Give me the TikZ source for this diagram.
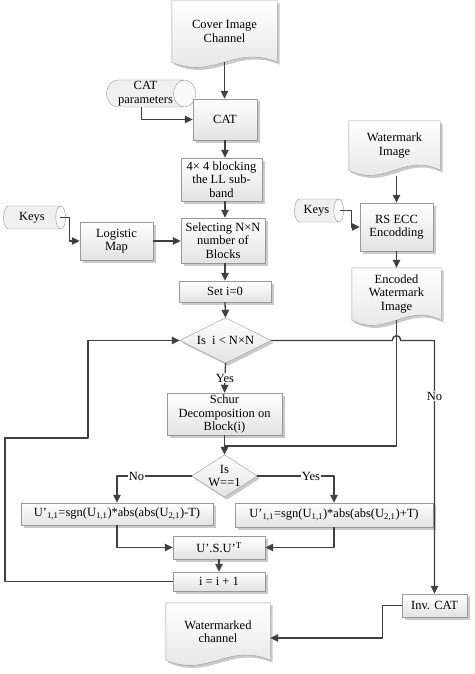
\documentclass[tikz,border=0pt]{standalone}
\usepackage{fontspec}
\setmainfont{Liberation Serif}
\usetikzlibrary{shapes.geometric,arrows.meta,shadows,backgrounds,calc}

\newcommand\fsz{\fontsize{12.5}{13.5}\selectfont}
% outline of a document shape round a plain node
\newcommand\docshape[1]{%
  \begin{scope}[on background layer]
    \path[box] (#1.north west) -- (#1.north east) -- (#1.south east)
      .. controls ($(#1.south)!0.2!(#1.south east)+(0pt,18pt)$)
      and ($(#1.south)!0.2!(#1.south west)+(0pt,-18pt)$) .. (#1.south west) -- cycle;
  \end{scope}}
% outline of a decision round a plain node
\newcommand\diashape[1]{%
  \begin{scope}[on background layer]
    \path[box] (#1.north) -- (#1.east) -- (#1.south) -- (#1.west) -- cycle;
  \end{scope}}

\begin{document}
\begin{tikzpicture}[x=1pt,y=-1pt,line join=round]
			\tikzset{every node/.style={font=\fsz},
				box/.style={draw=gray!80, top color=white, bottom color=gray!22,
					drop shadow={shadow xshift=2.5pt,shadow yshift=-2.5pt,fill=gray!70,opacity=.6},
					align=center, inner sep=1pt},
				plain/.style={align=center, inner sep=0pt},
				tube/.style={cylinder, draw=gray!80, cylinder uses custom fill,
					cylinder body fill=gray!12, cylinder end fill=gray!4,
					shape aspect=0.9, align=center, inner sep=0pt},
				line/.style={draw=black!75, line width=1.3pt},
				arr/.style={line, -{Triangle[length=8pt,width=7.5pt]}},
				lbl/.style={fill=white, inner sep=1pt}}
			\useasboundingbox (0,0) rectangle (474,674);
			% main column
			\node[plain, minimum width=105pt, minimum height=61pt] (cover) at (224.5,31.5) {Cover Image\\Channel};
			\docshape{cover}
			\node[tube, minimum height=89pt, minimum width=27pt] (catpar) at (145.5,93.5) {CAT\\parameters};
			\node[box, minimum width=64pt, minimum height=41pt] (cat) at (225,119.5) {CAT};
			\node[box, minimum width=81pt, minimum height=43pt] (block) at (221.5,179.5) {4× 4 blocking\\the LL sub-\\band};
			\node[tube, minimum height=62pt, minimum width=23pt] (keysA) at (32,217.5) {Keys};
			\node[box, minimum width=73pt, minimum height=38pt] (logistic) at (116.5,241) {Logistic\\Map};
			\node[box, minimum width=84pt, minimum height=45pt] (select) at (223,240.5) {Selecting N×N\\number of\\Blocks};
			\node[box, minimum width=92pt, minimum height=21pt] (set) at (225,291.5) {Set i=0};
			\node[plain, minimum width=91pt, minimum height=45pt] (loop) at (225.5,340.5) {Is\ \ i < N×N};
			\diashape{loop}
			\node[box, minimum width=115pt, minimum height=42pt] (schur) at (224.5,414) {Schur\\Decomposition on\\Block(i)};
			\node[plain, minimum width=65pt, minimum height=42pt] (test) at (224.5,476) {Is\\W==1};
			\diashape{test}
			\node[box, minimum width=192pt, minimum height=22pt] (minus) at (117,514)
				{U'\textsubscript{1,1}=sgn(U\textsubscript{1,1})*abs(abs(U\textsubscript{2,1})-T)};
			\node[box, minimum width=198pt, minimum height=24pt] (plus) at (334,515)
				{U'\textsubscript{1,1}=sgn(U\textsubscript{1,1})*abs(abs(U\textsubscript{2,1})+T)};
			\node[box, minimum width=92pt, minimum height=23pt] (usu) at (219,547.5) {U'.S.U'\textsuperscript{T}};
			\node[box, minimum width=92pt, minimum height=19pt] (next) at (219,581.5) {i = i + 1};
			\node[box, minimum width=65pt, minimum height=23pt] (invcat) at (434.5,605.5) {Inv. CAT};
			\node[plain, minimum width=104pt, minimum height=57pt] (marked) at (218,631.5) {Watermarked\\channel};
			\docshape{marked}
			% watermark column
			\node[plain, minimum width=91pt, minimum height=49pt] (wmark) at (394.5,145.5) {Watermark\\Image};
			\docshape{wmark}
			\node[tube, minimum height=49pt, minimum width=23pt] (keysB) at (316.5,210.5) {Keys};
			\node[box, minimum width=73pt, minimum height=48pt] (rs) at (396.5,227) {RS ECC\\Encodding};
			\node[plain, minimum width=89pt, minimum height=52pt] (enc) at (396.5,294) {Encoded\\Watermark\\Image};
			\docshape{enc}
			\coordinate (join) at (224.5,446);
			% connectors
			\draw[arr] (cover.south) -- (cover.south |- cat.north);
			\draw[arr] ([xshift=-4pt]catpar.south) |- (cat.west);
			\draw[arr] (cat.south) -- (cat.south |- block.north);
			\draw[arr] (cat.south |- block.south) -- (cat.south |- select.north);
			\draw[arr] (cat.south |- select.south) -- (set.north);
			\draw[arr] (set.south) -- (loop.north);
			\draw[arr] ([xshift=-6pt]keysA.east) -- ++(10,0) |- (logistic.west);
			\draw[arr] (logistic.east) -- (logistic.east -| select.west);
			\draw[arr] (loop.south) -- node[lbl]{Yes} (schur.north);
			\draw[arr] (schur.south) -- (test.north);
			\draw[arr] (test.west) -| node[lbl,pos=.37]{No} (minus.north);
			\draw[arr] (test.east) -| node[lbl,pos=.35]{Yes} (plus.north);
			\draw[arr] (minus.south) |- (usu.west);
			\draw[arr] (plus.south) |- (usu.east);
			\draw[arr] (usu.south) -- (next.north);
			\draw[arr] (next.west) -| (5,438) -| (88,340.5) -- (loop.west);
			\draw[arr] (loop.east) -- (392.5,340.5) .. controls (392.5,334) and (400.5,334) .. (400.5,340.5)
				-| node[lbl,pos=.61]{No} (invcat.north);
			\draw[arr] (invcat.west) -- ++(-19,0) |- ([yshift=-6.5pt]marked.east);
			\draw[arr] ([yshift=-6pt]rs.north |- wmark.south) -- (rs.north);
			\draw[arr] ([xshift=-4pt]keysB.east) -- ++(12,0) |- (rs.west);
			\draw[arr] (rs.south) -- (rs.south |- enc.north);
			\draw[line] (enc.south) |- (join);
		\end{tikzpicture}
\end{document}
